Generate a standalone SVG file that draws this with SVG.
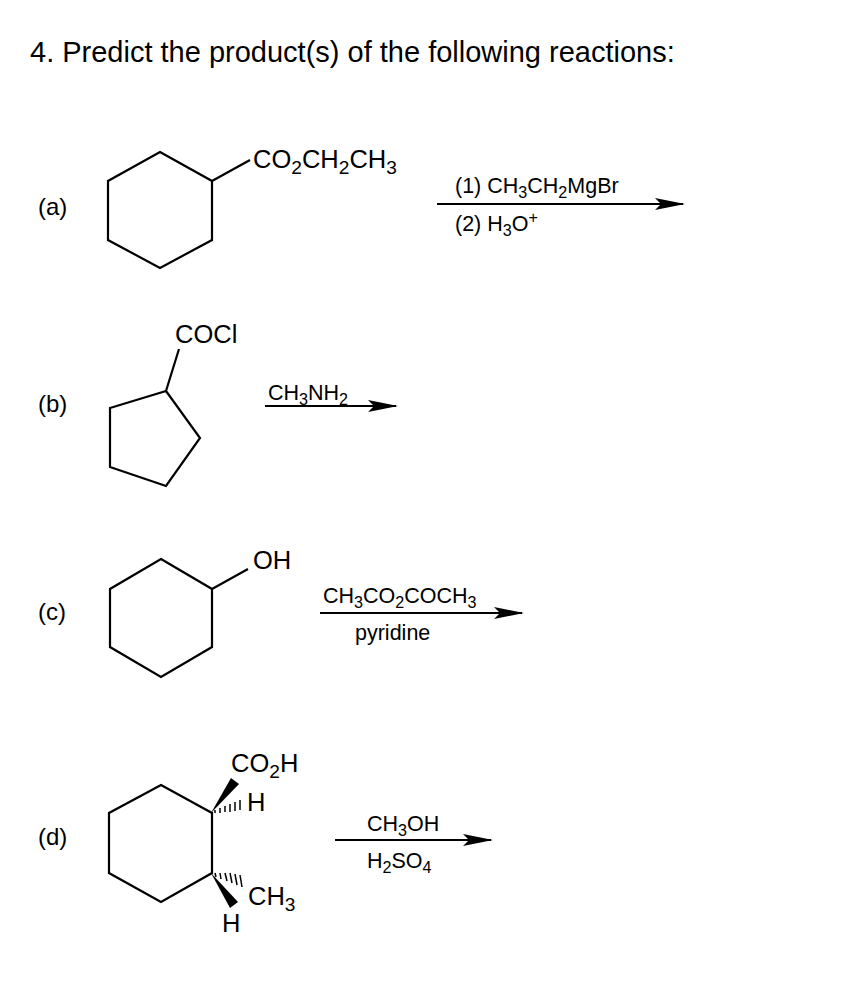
<svg xmlns="http://www.w3.org/2000/svg" width="846" height="1004" viewBox="0 0 846 1004">
<style>
text{font-family:"Liberation Sans",Arial,sans-serif;fill:#000}
.t{font-size:29px}.l{font-size:24px}.m{font-size:25.5px}.r{font-size:21.5px}
.s{font-size:0.75em}
.b{fill:none;stroke:#000;stroke-width:2.2;stroke-linejoin:miter}
.a{stroke:#000;stroke-width:1.8}
.h{stroke:#000;stroke-width:1.5}
</style>
<defs><marker id="ah" markerWidth="30" markerHeight="12" refX="28" refY="6" orient="auto" markerUnits="userSpaceOnUse"><path d="M0,0 L30,6 L0,12 L6,6 Z"/></marker></defs>
<rect width="846" height="1004" fill="#fff"/>
<text class="t" x="30" y="62">4.  Predict the product(s) of the following reactions:</text>
<g id="a">
<text class="l" x="38" y="215">(a)</text>
<path class="b" d="M160,152 L212,181 L212,240 L160,268 L108,240 L108,181 Z M212,181 L250,160"/>
<text class="m" x="253" y="168">CO<tspan class="s" dy="6">2</tspan><tspan dy="-6">CH</tspan><tspan class="s" dy="6">2</tspan><tspan dy="-6">CH</tspan><tspan class="s" dy="6">3</tspan></text>
</g>
<g id="b">
<text class="l" x="38" y="412">(b)</text>
<path class="b" d="M166,391 L200,438 L166,486 L110,467 L110,408 Z M166,391 L179,349"/>
<text class="m" x="175" y="343">COCl</text>
</g>
<g id="c">
<text class="l" x="38" y="620">(c)</text>
<path class="b" d="M161,559 L212,589 L212,647 L161,677 L110,647 L110,589 Z M212,589 L248,569"/>
<text class="m" x="253" y="569">OH</text>
</g>
<g id="d">
<text class="l" x="38" y="845">(d)</text>
<path class="b" d="M161,785 L212,813 L212,873 L161,902 L109,873 L109,813 Z"/>
<polygon points="211,813 231,778 239,784"/>
<polygon points="211,873 230,908 238,902"/>
<g class="h">
<line x1="215" y1="810" x2="215" y2="813"/><line x1="220" y1="808" x2="220" y2="813"/><line x1="225" y1="806" x2="225" y2="812"/><line x1="230" y1="804" x2="230" y2="812"/><line x1="235" y1="802" x2="235" y2="811"/><line x1="240" y1="800" x2="240" y2="810"/>
<line x1="215" y1="873" x2="216" y2="877"/><line x1="220" y1="873" x2="221" y2="879"/><line x1="225" y1="873" x2="227" y2="881"/><line x1="230" y1="873" x2="232" y2="883"/><line x1="235" y1="874" x2="237" y2="885"/><line x1="240" y1="875" x2="242" y2="887"/>
</g>
<text class="m" x="231" y="772">CO<tspan class="s" dy="6">2</tspan><tspan dy="-6">H</tspan></text>
<text class="m" x="247" y="811">H</text>
<text class="m" x="248" y="905">CH<tspan class="s" dy="6">3</tspan></text>
<text class="m" x="222" y="932">H</text>
</g>
<g id="connectors">
<line class="a" x1="437" y1="204" x2="683" y2="204" marker-end="url(#ah)"/>
<line class="a" x1="265" y1="406" x2="396" y2="406" marker-end="url(#ah)"/>
<line class="a" x1="320" y1="613" x2="522" y2="613" marker-end="url(#ah)"/>
<line class="a" x1="335" y1="840" x2="491" y2="840" marker-end="url(#ah)"/>
</g>
<g id="labels">
<text class="r" x="455" y="193">(1) CH<tspan class="s" dy="5">3</tspan><tspan dy="-5">CH</tspan><tspan class="s" dy="5">2</tspan><tspan dy="-5">MgBr</tspan></text>
<text class="r" x="455" y="231">(2) H<tspan class="s" dy="5">3</tspan><tspan dy="-5">O</tspan><tspan class="s" dy="-8">+</tspan></text>
<text class="r" x="268" y="400">CH<tspan class="s" dy="5">3</tspan><tspan dy="-5">NH</tspan><tspan class="s" dy="5">2</tspan></text>
<text class="r" x="323" y="603">CH<tspan class="s" dy="5">3</tspan><tspan dy="-5">CO</tspan><tspan class="s" dy="5">2</tspan><tspan dy="-5">COCH</tspan><tspan class="s" dy="5">3</tspan></text>
<text class="r" x="355" y="640">pyridine</text>
<text class="r" x="367" y="831">CH<tspan class="s" dy="5">3</tspan><tspan dy="-5">OH</tspan></text>
<text class="r" x="367" y="868">H<tspan class="s" dy="5">2</tspan><tspan dy="-5">SO</tspan><tspan class="s" dy="5">4</tspan></text>
</g>
</svg>
